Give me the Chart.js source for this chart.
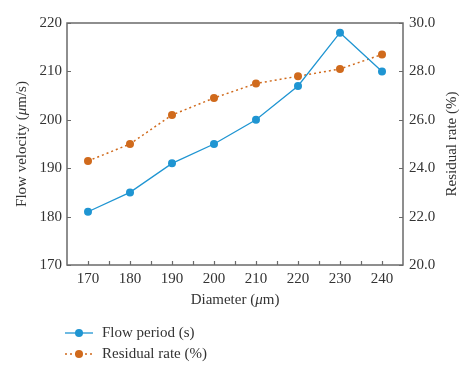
<!DOCTYPE html>
<html><head><meta charset="utf-8">
<script src="https://cdn.jsdelivr.net/npm/chart.js@4"></script>
<style>
html,body{margin:0;padding:0;background:#fff;}
#wrap{position:relative;width:474px;height:376px;}
#legend{position:absolute;left:64px;top:322px;font:15px "Liberation Serif","Times New Roman",serif;color:#333;}
.item{display:flex;align-items:center;height:21px;white-space:nowrap;}
.item svg{margin-right:8px;}
</style></head><body>
<div id="wrap"><canvas id="c" width="474" height="376"></canvas><div id="legend"></div></div>
<script>
const diameters = [170, 180, 190, 200, 210, 220, 230, 240];
const flowPeriod = [181, 185, 191, 195, 200, 207, 218, 210];
const residualRate = [24.3, 25.0, 26.2, 26.9, 27.5, 27.8, 28.1, 28.7];
const xTicks = [170, 180, 190, 200, 210, 220, 230, 240];
const xMinorTicks = [175, 185, 195, 205, 215, 225, 235];
const leftTicks = [170, 180, 190, 200, 210, 220];
const rightTicks = [20, 22, 24, 26, 28, 30];
const seriesNames = ['Flow period (s)', 'Residual rate (%)'];

const BLUE = '#1f95d2';
const ORANGE = '#d06a1c';
const AXIS = '#6a6a6a';
const TEXT = '#333333';
const FONT = '"Liberation Serif", "Times New Roman", serif';

function drawRich(ctx, segs, x, y, rot) {
  ctx.save();
  ctx.translate(x, y);
  ctx.rotate(rot);
  let total = 0;
  segs.forEach(s => { ctx.font = (s.italic ? 'italic ' : '') + '15px ' + FONT; total += ctx.measureText(s.t).width; });
  let cx = -total / 2;
  ctx.textBaseline = 'middle';
  ctx.textAlign = 'left';
  ctx.fillStyle = TEXT;
  segs.forEach(s => { ctx.font = (s.italic ? 'italic ' : '') + '15px ' + FONT; ctx.fillText(s.t, cx, 0); cx += ctx.measureText(s.t).width; });
  ctx.restore();
}

const framePlugin = {
  id: 'frame',
  afterDraw(chart) {
    const {ctx, chartArea: a, scales} = chart;
    ctx.save();
    ctx.strokeStyle = AXIS;
    ctx.lineWidth = 1.5;
    ctx.strokeRect(a.left, a.top, a.right - a.left, a.bottom - a.top);
    ctx.lineWidth = 1.2;
    ctx.beginPath();
    xTicks.concat(xMinorTicks).forEach(v => {
      const px = Math.round(scales.x.getPixelForValue(v)) + 0.5;
      ctx.moveTo(px, a.bottom); ctx.lineTo(px, a.bottom - 4);
    });
    leftTicks.forEach(v => {
      const py = Math.round(scales.y.getPixelForValue(v)) + 0.5;
      ctx.moveTo(a.left, py); ctx.lineTo(a.left + 4, py);
    });
    rightTicks.forEach(v => {
      const py = Math.round(scales.y1.getPixelForValue(v)) + 0.5;
      ctx.moveTo(a.right, py); ctx.lineTo(a.right - 4, py);
    });
    ctx.stroke();
    ctx.restore();
    const cy = (a.top + a.bottom) / 2;
    drawRich(ctx, [{t: 'Flow velocity ('}, {t: 'μ', italic: true}, {t: 'm/s)'}], 22, cy, -Math.PI / 2);
    drawRich(ctx, [{t: 'Residual rate (%)'}], 452, cy, -Math.PI / 2);
    drawRich(ctx, [{t: 'Diameter ('}, {t: 'μ', italic: true}, {t: 'm)'}], (a.left + a.right) / 2, 300, 0);
  }
};

const tickFont = {family: FONT, size: 15};
const noGrid = {display: false, drawTicks: false, tickLength: 0};

new Chart(document.getElementById('c'), {
  type: 'line',
  data: {
    datasets: [
      {
        label: seriesNames[0],
        data: diameters.map((d, i) => ({x: d, y: flowPeriod[i]})),
        yAxisID: 'y',
        borderColor: BLUE, backgroundColor: BLUE,
        borderWidth: 1.3, pointRadius: 4, pointBorderWidth: 0,
        tension: 0, order: 1
      },
      {
        label: seriesNames[1],
        data: diameters.map((d, i) => ({x: d, y: residualRate[i]})),
        yAxisID: 'y1',
        borderColor: ORANGE, backgroundColor: ORANGE,
        borderWidth: 1.5, borderDash: [2, 3], pointRadius: 4, pointBorderWidth: 0,
        tension: 0, order: 2
      }
    ]
  },
  options: {
    responsive: false,
    animation: false,
    devicePixelRatio: 1,
    layout: {padding: {top: 23, bottom: 81, left: 0, right: 0}},
    plugins: {legend: {display: false}, tooltip: {enabled: false}},
    scales: {
      x: {
        type: 'linear', min: 165, max: 245,
        afterBuildTicks: s => { s.ticks = xTicks.map(v => ({value: v})); },
        afterFit: s => { s.height = 30; },
        grid: noGrid, border: {display: false},
        ticks: {font: tickFont, color: TEXT, padding: 5, maxRotation: 0, autoSkip: false}
      },
      y: {
        type: 'linear', position: 'left', min: 170, max: 220,
        afterBuildTicks: s => { s.ticks = leftTicks.map(v => ({value: v})); },
        afterFit: s => { s.width = 67; },
        grid: noGrid, border: {display: false},
        ticks: {font: tickFont, color: TEXT, padding: 5}
      },
      y1: {
        type: 'linear', position: 'right', min: 20, max: 30,
        afterBuildTicks: s => { s.ticks = rightTicks.map(v => ({value: v})); },
        afterFit: s => { s.width = 71; },
        grid: noGrid, border: {display: false},
        ticks: {font: tickFont, color: TEXT, padding: 6, callback: v => Number(v).toFixed(1)}
      }
    }
  },
  plugins: [framePlugin]
});

// legend
const legend = document.getElementById('legend');
[[BLUE, ''], [ORANGE, '2 3']].forEach((st, i) => {
  const div = document.createElement('div');
  div.className = 'item';
  div.innerHTML = '<svg width="30" height="12"><line x1="1" y1="6" x2="29" y2="6" stroke="' + st[0] + '" stroke-width="' + (i ? 1.5 : 1.3) + '"' + (st[1] ? ' stroke-dasharray="' + st[1] + '"' : '') + '/><circle cx="15" cy="6" r="4" fill="' + st[0] + '"/></svg>';
  const span = document.createElement('span');
  span.textContent = seriesNames[i];
  div.appendChild(span);
  legend.appendChild(div);
});
</script>
</body></html>
